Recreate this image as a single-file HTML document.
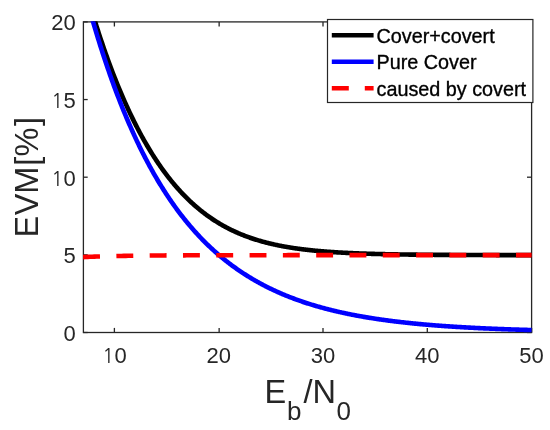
<!DOCTYPE html>
<html><head><meta charset="utf-8">
<style>
html,body{margin:0;padding:0;background:#fff;}
body{width:550px;height:430px;overflow:hidden;}
svg{display:block;}
</style></head>
<body>
<svg width="550" height="430" viewBox="0 0 550 430">
<rect width="550" height="430" fill="#fff"/>
<defs><clipPath id="ax"><rect x="80.10" y="21.20" width="454.50" height="314.60"/></clipPath></defs>
<g stroke="#262626" stroke-width="1.3" fill="none">
<rect x="83.40" y="21.90" width="448.20" height="310.60"/>
<line x1="114.39" y1="332.50" x2="114.39" y2="327.90"/><line x1="114.39" y1="21.90" x2="114.39" y2="26.50"/><line x1="219.14" y1="332.50" x2="219.14" y2="327.90"/><line x1="219.14" y1="21.90" x2="219.14" y2="26.50"/><line x1="323.00" y1="332.50" x2="323.00" y2="327.90"/><line x1="323.00" y1="21.90" x2="323.00" y2="26.50"/><line x1="427.30" y1="332.50" x2="427.30" y2="327.90"/><line x1="427.30" y1="21.90" x2="427.30" y2="26.50"/><line x1="531.60" y1="332.50" x2="531.60" y2="327.90"/><line x1="531.60" y1="21.90" x2="531.60" y2="26.50"/><line x1="83.10" y1="332.50" x2="87.70" y2="332.50"/><line x1="531.60" y1="332.50" x2="527.00" y2="332.50"/><line x1="83.10" y1="254.85" x2="87.70" y2="254.85"/><line x1="531.60" y1="254.85" x2="527.00" y2="254.85"/><line x1="83.10" y1="177.20" x2="87.70" y2="177.20"/><line x1="531.60" y1="177.20" x2="527.00" y2="177.20"/><line x1="83.10" y1="99.55" x2="87.70" y2="99.55"/><line x1="531.60" y1="99.55" x2="527.00" y2="99.55"/><line x1="83.10" y1="21.90" x2="87.70" y2="21.90"/><line x1="531.60" y1="21.90" x2="527.00" y2="21.90"/>
</g>
<g clip-path="url(#ax)" fill="none" stroke-width="4.6" stroke-linejoin="round">
<path d="M83.10,-19.50 L83.85,-16.76 L84.60,-14.04 L85.35,-11.35 L86.09,-8.67 L86.84,-6.03 L87.59,-3.40 L88.34,-0.80 L89.09,1.78 L89.84,4.34 L90.59,6.87 L91.34,9.39 L92.08,11.88 L92.83,14.35 L93.58,16.80 L94.33,19.22 L95.08,21.63 L95.83,24.02 L96.58,26.38 L97.33,28.72 L98.07,31.05 L98.82,33.35 L99.57,35.63 L100.32,37.90 L101.07,40.14 L101.82,42.36 L102.57,44.57 L103.32,46.75 L104.06,48.92 L104.81,51.06 L105.56,53.19 L106.31,55.30 L107.06,57.39 L107.81,59.46 L108.56,61.51 L109.31,63.55 L110.05,65.57 L110.80,67.57 L111.55,69.55 L112.30,71.51 L113.05,73.46 L113.80,75.39 L114.55,77.30 L115.30,79.20 L116.04,81.07 L116.79,82.94 L117.54,84.78 L118.29,86.61 L119.04,88.42 L119.79,90.22 L120.54,92.00 L121.29,93.76 L122.03,95.51 L122.78,97.24 L123.53,98.95 L124.28,100.66 L125.03,102.34 L125.78,104.01 L126.53,105.66 L127.28,107.30 L128.02,108.93 L128.77,110.54 L129.52,112.13 L130.27,113.71 L131.02,115.28 L131.77,116.83 L132.52,118.37 L133.27,119.89 L134.01,121.40 L134.76,122.90 L135.51,124.38 L136.26,125.85 L137.01,127.30 L137.76,128.74 L138.51,130.17 L139.26,131.58 L140.00,132.98 L140.75,134.37 L141.50,135.74 L142.25,137.10 L143.00,138.45 L143.75,139.79 L144.50,141.11 L145.25,142.42 L145.99,143.72 L146.74,145.00 L147.49,146.28 L148.24,147.54 L148.99,148.79 L149.74,150.03 L150.49,151.25 L151.24,152.46 L151.98,153.67 L152.73,154.86 L153.48,156.03 L154.23,157.20 L154.98,158.36 L155.73,159.50 L156.48,160.63 L157.23,161.76 L157.97,162.87 L158.72,163.97 L159.47,165.06 L160.22,166.13 L160.97,167.20 L161.72,168.26 L162.47,169.30 L163.22,170.34 L163.96,171.37 L164.71,172.38 L165.46,173.39 L166.21,174.38 L166.96,175.37 L167.71,176.34 L168.46,177.31 L169.21,178.26 L169.95,179.21 L170.70,180.14 L171.45,181.07 L172.20,181.99 L172.95,182.89 L173.70,183.79 L174.45,184.68 L175.20,185.56 L175.94,186.43 L176.69,187.29 L177.44,188.14 L178.19,188.98 L178.94,189.82 L179.69,190.64 L180.44,191.46 L181.19,192.27 L181.93,193.07 L182.68,193.86 L183.43,194.64 L184.18,195.41 L184.93,196.18 L185.68,196.94 L186.43,197.68 L187.18,198.42 L187.92,199.16 L188.67,199.88 L189.42,200.60 L190.17,201.31 L190.92,202.01 L191.67,202.70 L192.42,203.39 L193.17,204.07 L193.91,204.74 L194.66,205.40 L195.41,206.06 L196.16,206.70 L196.91,207.34 L197.66,207.98 L198.41,208.61 L199.16,209.22 L199.90,209.84 L200.65,210.44 L201.40,211.04 L202.15,211.63 L202.90,212.22 L203.65,212.79 L204.40,213.37 L205.15,213.93 L205.89,214.49 L206.64,215.04 L207.39,215.59 L208.14,216.12 L208.89,216.66 L209.64,217.18 L210.39,217.70 L211.14,218.22 L211.88,218.72 L212.63,219.22 L213.38,219.72 L214.13,220.21 L214.88,220.69 L215.63,221.17 L216.38,221.64 L217.13,222.11 L217.87,222.57 L218.62,223.02 L219.37,223.47 L220.12,223.92 L220.87,224.36 L221.62,224.79 L222.37,225.22 L223.12,225.64 L223.86,226.05 L224.61,226.47 L225.36,226.87 L226.11,227.27 L226.86,227.67 L227.61,228.06 L228.36,228.45 L229.11,228.83 L229.85,229.21 L230.60,229.58 L231.35,229.95 L232.10,230.31 L232.85,230.67 L233.60,231.02 L234.35,231.37 L235.10,231.71 L235.84,232.05 L236.59,232.39 L237.34,232.72 L238.09,233.04 L238.84,233.37 L239.59,233.68 L240.34,234.00 L241.09,234.31 L241.83,234.61 L242.58,234.91 L243.33,235.21 L244.08,235.50 L244.83,235.79 L245.58,236.08 L246.33,236.36 L247.08,236.64 L247.82,236.91 L248.57,237.18 L249.32,237.45 L250.07,237.71 L250.82,237.97 L251.57,238.23 L252.32,238.48 L253.07,238.73 L253.81,238.98 L254.56,239.22 L255.31,239.46 L256.06,239.69 L256.81,239.92 L257.56,240.15 L258.31,240.38 L259.06,240.60 L259.80,240.82 L260.55,241.04 L261.30,241.25 L262.05,241.46 L262.80,241.67 L263.55,241.87 L264.30,242.08 L265.05,242.28 L265.79,242.47 L266.54,242.66 L267.29,242.86 L268.04,243.04 L268.79,243.23 L269.54,243.41 L270.29,243.59 L271.04,243.77 L271.78,243.94 L272.53,244.11 L273.28,244.28 L274.03,244.45 L274.78,244.62 L275.53,244.78 L276.28,244.94 L277.03,245.10 L277.77,245.25 L278.52,245.40 L279.27,245.56 L280.02,245.70 L280.77,245.85 L281.52,246.00 L282.27,246.14 L283.02,246.28 L283.76,246.42 L284.51,246.55 L285.26,246.69 L286.01,246.82 L286.76,246.95 L287.51,247.08 L288.26,247.20 L289.01,247.33 L289.75,247.45 L290.50,247.57 L291.25,247.69 L292.00,247.81 L292.75,247.92 L293.50,248.03 L294.25,248.15 L295.00,248.26 L295.74,248.36 L296.49,248.47 L297.24,248.58 L297.99,248.68 L298.74,248.78 L299.49,248.88 L300.24,248.98 L300.99,249.08 L301.73,249.18 L302.48,249.27 L303.23,249.36 L303.98,249.45 L304.73,249.54 L305.48,249.63 L306.23,249.72 L306.98,249.81 L307.72,249.89 L308.47,249.98 L309.22,250.06 L309.97,250.14 L310.72,250.22 L311.47,250.30 L312.22,250.37 L312.97,250.45 L313.71,250.53 L314.46,250.60 L315.21,250.67 L315.96,250.74 L316.71,250.81 L317.46,250.88 L318.21,250.95 L318.96,251.02 L319.70,251.09 L320.45,251.15 L321.20,251.21 L321.95,251.28 L322.70,251.34 L323.45,251.40 L324.20,251.46 L324.95,251.52 L325.69,251.58 L326.44,251.64 L327.19,251.69 L327.94,251.75 L328.69,251.80 L329.44,251.86 L330.19,251.91 L330.94,251.96 L331.68,252.01 L332.43,252.06 L333.18,252.11 L333.93,252.16 L334.68,252.21 L335.43,252.26 L336.18,252.30 L336.93,252.35 L337.67,252.40 L338.42,252.44 L339.17,252.48 L339.92,252.53 L340.67,252.57 L341.42,252.61 L342.17,252.65 L342.92,252.69 L343.66,252.73 L344.41,252.77 L345.16,252.81 L345.91,252.85 L346.66,252.89 L347.41,252.92 L348.16,252.96 L348.91,252.99 L349.65,253.03 L350.40,253.06 L351.15,253.10 L351.90,253.13 L352.65,253.16 L353.40,253.20 L354.15,253.23 L354.90,253.26 L355.64,253.29 L356.39,253.32 L357.14,253.35 L357.89,253.38 L358.64,253.41 L359.39,253.44 L360.14,253.46 L360.89,253.49 L361.63,253.52 L362.38,253.55 L363.13,253.57 L363.88,253.60 L364.63,253.62 L365.38,253.65 L366.13,253.67 L366.88,253.70 L367.62,253.72 L368.37,253.74 L369.12,253.77 L369.87,253.79 L370.62,253.81 L371.37,253.83 L372.12,253.86 L372.87,253.88 L373.61,253.90 L374.36,253.92 L375.11,253.94 L375.86,253.96 L376.61,253.98 L377.36,254.00 L378.11,254.02 L378.86,254.03 L379.60,254.05 L380.35,254.07 L381.10,254.09 L381.85,254.11 L382.60,254.12 L383.35,254.14 L384.10,254.16 L384.85,254.17 L385.59,254.19 L386.34,254.20 L387.09,254.22 L387.84,254.24 L388.59,254.25 L389.34,254.27 L390.09,254.28 L390.84,254.29 L391.58,254.31 L392.33,254.32 L393.08,254.34 L393.83,254.35 L394.58,254.36 L395.33,254.38 L396.08,254.39 L396.83,254.40 L397.57,254.41 L398.32,254.43 L399.07,254.44 L399.82,254.45 L400.57,254.46 L401.32,254.47 L402.07,254.48 L402.82,254.49 L403.56,254.51 L404.31,254.52 L405.06,254.53 L405.81,254.54 L406.56,254.55 L407.31,254.56 L408.06,254.57 L408.81,254.58 L409.55,254.59 L410.30,254.60 L411.05,254.61 L411.80,254.61 L412.55,254.62 L413.30,254.63 L414.05,254.64 L414.80,254.65 L415.54,254.66 L416.29,254.67 L417.04,254.67 L417.79,254.68 L418.54,254.69 L419.29,254.70 L420.04,254.70 L420.79,254.71 L421.53,254.72 L422.28,254.73 L423.03,254.73 L423.78,254.74 L424.53,254.75 L425.28,254.75 L426.03,254.76 L426.78,254.77 L427.52,254.77 L428.27,254.78 L429.02,254.79 L429.77,254.79 L430.52,254.80 L431.27,254.80 L432.02,254.81 L432.77,254.82 L433.51,254.82 L434.26,254.83 L435.01,254.83 L435.76,254.84 L436.51,254.84 L437.26,254.85 L438.01,254.85 L438.76,254.86 L439.50,254.86 L440.25,254.87 L441.00,254.87 L441.75,254.88 L442.50,254.88 L443.25,254.89 L444.00,254.89 L444.75,254.90 L445.49,254.90 L446.24,254.90 L446.99,254.91 L447.74,254.91 L448.49,254.92 L449.24,254.92 L449.99,254.92 L450.74,254.93 L451.48,254.93 L452.23,254.94 L452.98,254.94 L453.73,254.94 L454.48,254.95 L455.23,254.95 L455.98,254.95 L456.73,254.96 L457.47,254.96 L458.22,254.96 L458.97,254.97 L459.72,254.97 L460.47,254.97 L461.22,254.98 L461.97,254.98 L462.72,254.98 L463.46,254.99 L464.21,254.99 L464.96,254.99 L465.71,254.99 L466.46,255.00 L467.21,255.00 L467.96,255.00 L468.71,255.00 L469.45,255.01 L470.20,255.01 L470.95,255.01 L471.70,255.01 L472.45,255.02 L473.20,255.02 L473.95,255.02 L474.70,255.02 L475.44,255.03 L476.19,255.03 L476.94,255.03 L477.69,255.03 L478.44,255.03 L479.19,255.04 L479.94,255.04 L480.69,255.04 L481.43,255.04 L482.18,255.04 L482.93,255.05 L483.68,255.05 L484.43,255.05 L485.18,255.05 L485.93,255.05 L486.68,255.06 L487.42,255.06 L488.17,255.06 L488.92,255.06 L489.67,255.06 L490.42,255.06 L491.17,255.07 L491.92,255.07 L492.67,255.07 L493.41,255.07 L494.16,255.07 L494.91,255.07 L495.66,255.07 L496.41,255.08 L497.16,255.08 L497.91,255.08 L498.66,255.08 L499.40,255.08 L500.15,255.08 L500.90,255.08 L501.65,255.09 L502.40,255.09 L503.15,255.09 L503.90,255.09 L504.65,255.09 L505.39,255.09 L506.14,255.09 L506.89,255.09 L507.64,255.09 L508.39,255.10 L509.14,255.10 L509.89,255.10 L510.64,255.10 L511.38,255.10 L512.13,255.10 L512.88,255.10 L513.63,255.10 L514.38,255.10 L515.13,255.10 L515.88,255.11 L516.63,255.11 L517.37,255.11 L518.12,255.11 L518.87,255.11 L519.62,255.11 L520.37,255.11 L521.12,255.11 L521.87,255.11 L522.62,255.11 L523.36,255.11 L524.11,255.11 L524.86,255.12 L525.61,255.12 L526.36,255.12 L527.11,255.12 L527.86,255.12 L528.61,255.12 L529.35,255.12 L530.10,255.12 L530.85,255.12 L531.60,255.12" stroke="#000"/>
<path d="M83.10,-14.35 L83.85,-11.50 L84.60,-8.66 L85.35,-5.86 L86.09,-3.07 L86.84,-0.31 L87.59,2.43 L88.34,5.15 L89.09,7.84 L89.84,10.51 L90.59,13.16 L91.34,15.79 L92.08,18.40 L92.83,20.98 L93.58,23.55 L94.33,26.09 L95.08,28.61 L95.83,31.11 L96.58,33.59 L97.33,36.05 L98.07,38.49 L98.82,40.91 L99.57,43.31 L100.32,45.69 L101.07,48.06 L101.82,50.40 L102.57,52.72 L103.32,55.02 L104.06,57.30 L104.81,59.57 L105.56,61.82 L106.31,64.04 L107.06,66.25 L107.81,68.45 L108.56,70.62 L109.31,72.77 L110.05,74.91 L110.80,77.03 L111.55,79.13 L112.30,81.22 L113.05,83.29 L113.80,85.34 L114.55,87.37 L115.30,89.39 L116.04,91.39 L116.79,93.38 L117.54,95.34 L118.29,97.30 L119.04,99.23 L119.79,101.15 L120.54,103.06 L121.29,104.95 L122.03,106.82 L122.78,108.68 L123.53,110.52 L124.28,112.34 L125.03,114.16 L125.78,115.95 L126.53,117.74 L127.28,119.50 L128.02,121.26 L128.77,123.00 L129.52,124.72 L130.27,126.43 L131.02,128.13 L131.77,129.81 L132.52,131.48 L133.27,133.13 L134.01,134.77 L134.76,136.40 L135.51,138.01 L136.26,139.61 L137.01,141.20 L137.76,142.78 L138.51,144.34 L139.26,145.89 L140.00,147.42 L140.75,148.95 L141.50,150.46 L142.25,151.95 L143.00,153.44 L143.75,154.91 L144.50,156.38 L145.25,157.83 L145.99,159.26 L146.74,160.69 L147.49,162.10 L148.24,163.51 L148.99,164.90 L149.74,166.28 L150.49,167.64 L151.24,169.00 L151.98,170.35 L152.73,171.68 L153.48,173.01 L154.23,174.32 L154.98,175.62 L155.73,176.91 L156.48,178.19 L157.23,179.46 L157.97,180.72 L158.72,181.97 L159.47,183.21 L160.22,184.44 L160.97,185.66 L161.72,186.87 L162.47,188.06 L163.22,189.25 L163.96,190.43 L164.71,191.60 L165.46,192.76 L166.21,193.91 L166.96,195.05 L167.71,196.18 L168.46,197.31 L169.21,198.42 L169.95,199.52 L170.70,200.62 L171.45,201.70 L172.20,202.78 L172.95,203.85 L173.70,204.90 L174.45,205.96 L175.20,207.00 L175.94,208.03 L176.69,209.05 L177.44,210.07 L178.19,211.08 L178.94,212.08 L179.69,213.07 L180.44,214.05 L181.19,215.03 L181.93,215.99 L182.68,216.95 L183.43,217.90 L184.18,218.85 L184.93,219.78 L185.68,220.71 L186.43,221.63 L187.18,222.54 L187.92,223.45 L188.67,224.34 L189.42,225.23 L190.17,226.12 L190.92,226.99 L191.67,227.86 L192.42,228.72 L193.17,229.58 L193.91,230.42 L194.66,231.26 L195.41,232.10 L196.16,232.92 L196.91,233.74 L197.66,234.56 L198.41,235.36 L199.16,236.16 L199.90,236.95 L200.65,237.74 L201.40,238.52 L202.15,239.29 L202.90,240.06 L203.65,240.82 L204.40,241.58 L205.15,242.33 L205.89,243.07 L206.64,243.80 L207.39,244.53 L208.14,245.26 L208.89,245.98 L209.64,246.69 L210.39,247.39 L211.14,248.09 L211.88,248.79 L212.63,249.48 L213.38,250.16 L214.13,250.84 L214.88,251.51 L215.63,252.18 L216.38,252.84 L217.13,253.50 L217.87,254.15 L218.62,254.79 L219.37,255.43 L220.12,256.06 L220.87,256.69 L221.62,257.32 L222.37,257.94 L223.12,258.55 L223.86,259.16 L224.61,259.76 L225.36,260.36 L226.11,260.95 L226.86,261.54 L227.61,262.13 L228.36,262.71 L229.11,263.28 L229.85,263.85 L230.60,264.42 L231.35,264.98 L232.10,265.53 L232.85,266.08 L233.60,266.63 L234.35,267.17 L235.10,267.71 L235.84,268.24 L236.59,268.77 L237.34,269.30 L238.09,269.82 L238.84,270.33 L239.59,270.84 L240.34,271.35 L241.09,271.85 L241.83,272.35 L242.58,272.85 L243.33,273.34 L244.08,273.83 L244.83,274.31 L245.58,274.79 L246.33,275.26 L247.08,275.73 L247.82,276.20 L248.57,276.67 L249.32,277.13 L250.07,277.58 L250.82,278.03 L251.57,278.48 L252.32,278.93 L253.07,279.37 L253.81,279.80 L254.56,280.24 L255.31,280.67 L256.06,281.09 L256.81,281.52 L257.56,281.94 L258.31,282.35 L259.06,282.77 L259.80,283.18 L260.55,283.58 L261.30,283.98 L262.05,284.38 L262.80,284.78 L263.55,285.17 L264.30,285.56 L265.05,285.95 L265.79,286.33 L266.54,286.71 L267.29,287.09 L268.04,287.46 L268.79,287.83 L269.54,288.20 L270.29,288.56 L271.04,288.93 L271.78,289.29 L272.53,289.64 L273.28,289.99 L274.03,290.34 L274.78,290.69 L275.53,291.03 L276.28,291.38 L277.03,291.71 L277.77,292.05 L278.52,292.38 L279.27,292.71 L280.02,293.04 L280.77,293.37 L281.52,293.69 L282.27,294.01 L283.02,294.32 L283.76,294.64 L284.51,294.95 L285.26,295.26 L286.01,295.57 L286.76,295.87 L287.51,296.17 L288.26,296.47 L289.01,296.77 L289.75,297.06 L290.50,297.35 L291.25,297.64 L292.00,297.93 L292.75,298.21 L293.50,298.49 L294.25,298.77 L295.00,299.05 L295.74,299.33 L296.49,299.60 L297.24,299.87 L297.99,300.14 L298.74,300.41 L299.49,300.67 L300.24,300.93 L300.99,301.19 L301.73,301.45 L302.48,301.71 L303.23,301.96 L303.98,302.21 L304.73,302.46 L305.48,302.71 L306.23,302.95 L306.98,303.20 L307.72,303.44 L308.47,303.68 L309.22,303.91 L309.97,304.15 L310.72,304.38 L311.47,304.61 L312.22,304.84 L312.97,305.07 L313.71,305.30 L314.46,305.52 L315.21,305.74 L315.96,305.96 L316.71,306.18 L317.46,306.40 L318.21,306.61 L318.96,306.83 L319.70,307.04 L320.45,307.25 L321.20,307.45 L321.95,307.66 L322.70,307.86 L323.45,308.07 L324.20,308.27 L324.95,308.47 L325.69,308.67 L326.44,308.86 L327.19,309.06 L327.94,309.25 L328.69,309.44 L329.44,309.63 L330.19,309.82 L330.94,310.01 L331.68,310.19 L332.43,310.37 L333.18,310.56 L333.93,310.74 L334.68,310.92 L335.43,311.09 L336.18,311.27 L336.93,311.44 L337.67,311.62 L338.42,311.79 L339.17,311.96 L339.92,312.13 L340.67,312.30 L341.42,312.46 L342.17,312.63 L342.92,312.79 L343.66,312.95 L344.41,313.11 L345.16,313.27 L345.91,313.43 L346.66,313.59 L347.41,313.75 L348.16,313.90 L348.91,314.05 L349.65,314.20 L350.40,314.36 L351.15,314.50 L351.90,314.65 L352.65,314.80 L353.40,314.95 L354.15,315.09 L354.90,315.23 L355.64,315.37 L356.39,315.52 L357.14,315.66 L357.89,315.79 L358.64,315.93 L359.39,316.07 L360.14,316.20 L360.89,316.34 L361.63,316.47 L362.38,316.60 L363.13,316.73 L363.88,316.86 L364.63,316.99 L365.38,317.12 L366.13,317.25 L366.88,317.37 L367.62,317.50 L368.37,317.62 L369.12,317.74 L369.87,317.86 L370.62,317.98 L371.37,318.10 L372.12,318.22 L372.87,318.34 L373.61,318.46 L374.36,318.57 L375.11,318.69 L375.86,318.80 L376.61,318.91 L377.36,319.02 L378.11,319.14 L378.86,319.25 L379.60,319.35 L380.35,319.46 L381.10,319.57 L381.85,319.68 L382.60,319.78 L383.35,319.89 L384.10,319.99 L384.85,320.09 L385.59,320.20 L386.34,320.30 L387.09,320.40 L387.84,320.50 L388.59,320.60 L389.34,320.69 L390.09,320.79 L390.84,320.89 L391.58,320.98 L392.33,321.08 L393.08,321.17 L393.83,321.26 L394.58,321.36 L395.33,321.45 L396.08,321.54 L396.83,321.63 L397.57,321.72 L398.32,321.81 L399.07,321.90 L399.82,321.98 L400.57,322.07 L401.32,322.16 L402.07,322.24 L402.82,322.33 L403.56,322.41 L404.31,322.49 L405.06,322.57 L405.81,322.66 L406.56,322.74 L407.31,322.82 L408.06,322.90 L408.81,322.98 L409.55,323.06 L410.30,323.13 L411.05,323.21 L411.80,323.29 L412.55,323.36 L413.30,323.44 L414.05,323.51 L414.80,323.59 L415.54,323.66 L416.29,323.73 L417.04,323.80 L417.79,323.88 L418.54,323.95 L419.29,324.02 L420.04,324.09 L420.79,324.16 L421.53,324.22 L422.28,324.29 L423.03,324.36 L423.78,324.43 L424.53,324.49 L425.28,324.56 L426.03,324.63 L426.78,324.69 L427.52,324.75 L428.27,324.82 L429.02,324.88 L429.77,324.94 L430.52,325.01 L431.27,325.07 L432.02,325.13 L432.77,325.19 L433.51,325.25 L434.26,325.31 L435.01,325.37 L435.76,325.43 L436.51,325.49 L437.26,325.54 L438.01,325.60 L438.76,325.66 L439.50,325.71 L440.25,325.77 L441.00,325.83 L441.75,325.88 L442.50,325.93 L443.25,325.99 L444.00,326.04 L444.75,326.10 L445.49,326.15 L446.24,326.20 L446.99,326.25 L447.74,326.30 L448.49,326.35 L449.24,326.41 L449.99,326.46 L450.74,326.51 L451.48,326.55 L452.23,326.60 L452.98,326.65 L453.73,326.70 L454.48,326.75 L455.23,326.80 L455.98,326.84 L456.73,326.89 L457.47,326.93 L458.22,326.98 L458.97,327.03 L459.72,327.07 L460.47,327.12 L461.22,327.16 L461.97,327.20 L462.72,327.25 L463.46,327.29 L464.21,327.33 L464.96,327.38 L465.71,327.42 L466.46,327.46 L467.21,327.50 L467.96,327.54 L468.71,327.58 L469.45,327.62 L470.20,327.66 L470.95,327.70 L471.70,327.74 L472.45,327.78 L473.20,327.82 L473.95,327.86 L474.70,327.90 L475.44,327.94 L476.19,327.97 L476.94,328.01 L477.69,328.05 L478.44,328.08 L479.19,328.12 L479.94,328.16 L480.69,328.19 L481.43,328.23 L482.18,328.26 L482.93,328.30 L483.68,328.33 L484.43,328.37 L485.18,328.40 L485.93,328.43 L486.68,328.47 L487.42,328.50 L488.17,328.53 L488.92,328.57 L489.67,328.60 L490.42,328.63 L491.17,328.66 L491.92,328.69 L492.67,328.73 L493.41,328.76 L494.16,328.79 L494.91,328.82 L495.66,328.85 L496.41,328.88 L497.16,328.91 L497.91,328.94 L498.66,328.97 L499.40,329.00 L500.15,329.03 L500.90,329.05 L501.65,329.08 L502.40,329.11 L503.15,329.14 L503.90,329.17 L504.65,329.19 L505.39,329.22 L506.14,329.25 L506.89,329.27 L507.64,329.30 L508.39,329.33 L509.14,329.35 L509.89,329.38 L510.64,329.41 L511.38,329.43 L512.13,329.46 L512.88,329.48 L513.63,329.51 L514.38,329.53 L515.13,329.55 L515.88,329.58 L516.63,329.60 L517.37,329.63 L518.12,329.65 L518.87,329.67 L519.62,329.70 L520.37,329.72 L521.12,329.74 L521.87,329.77 L522.62,329.79 L523.36,329.81 L524.11,329.83 L524.86,329.85 L525.61,329.88 L526.36,329.90 L527.11,329.92 L527.86,329.94 L528.61,329.96 L529.35,329.98 L530.10,330.00 L530.85,330.02 L531.60,330.04" stroke="#0000ff"/>
<path d="M83.10,257.10 L85.35,257.00 L87.61,256.90 L89.86,256.81 L92.12,256.72 L94.37,256.64 L96.62,256.56 L98.88,256.49 L101.13,256.42 L103.38,256.35 L105.64,256.29 L107.89,256.23 L110.15,256.18 L112.40,256.12 L114.65,256.07 L116.91,256.02 L119.16,255.98 L121.41,255.94 L123.67,255.89 L125.92,255.86 L128.18,255.82 L130.43,255.78 L132.68,255.75 L134.94,255.72 L137.19,255.69 L139.44,255.66 L141.70,255.64 L143.95,255.61 L146.21,255.59 L148.46,255.57 L150.71,255.54 L152.97,255.52 L155.22,255.51 L157.47,255.49 L159.73,255.47 L161.98,255.45 L164.24,255.44 L166.49,255.42 L168.74,255.41 L171.00,255.40 L173.25,255.38 L175.50,255.37 L177.76,255.36 L180.01,255.35 L182.27,255.34 L184.52,255.33 L186.77,255.32 L189.03,255.31 L191.28,255.31 L193.53,255.30 L195.79,255.29 L198.04,255.28 L200.30,255.28 L202.55,255.27 L204.80,255.27 L207.06,255.26 L209.31,255.25 L211.56,255.25 L213.82,255.25 L216.07,255.24 L218.33,255.24 L220.58,255.23 L222.83,255.23 L225.09,255.23 L227.34,255.22 L229.59,255.22 L231.85,255.22 L234.10,255.21 L236.36,255.21 L238.61,255.21 L240.86,255.20 L243.12,255.20 L245.37,255.20 L247.63,255.20 L249.88,255.20 L252.13,255.19 L254.39,255.19 L256.64,255.19 L258.89,255.19 L261.15,255.19 L263.40,255.19 L265.66,255.19 L267.91,255.18 L270.16,255.18 L272.42,255.18 L274.67,255.18 L276.92,255.18 L279.18,255.18 L281.43,255.18 L283.69,255.18 L285.94,255.18 L288.19,255.17 L290.45,255.17 L292.70,255.17 L294.95,255.17 L297.21,255.17 L299.46,255.17 L301.72,255.17 L303.97,255.17 L306.22,255.17 L308.48,255.17 L310.73,255.17 L312.98,255.17 L315.24,255.17 L317.49,255.17 L319.75,255.17 L322.00,255.17 L324.25,255.17 L326.51,255.17 L328.76,255.17 L331.01,255.17 L333.27,255.17 L335.52,255.17 L337.78,255.16 L340.03,255.16 L342.28,255.16 L344.54,255.16 L346.79,255.16 L349.04,255.16 L351.30,255.16 L353.55,255.16 L355.81,255.16 L358.06,255.16 L360.31,255.16 L362.57,255.16 L364.82,255.16 L367.07,255.16 L369.33,255.16 L371.58,255.16 L373.84,255.16 L376.09,255.16 L378.34,255.16 L380.60,255.16 L382.85,255.16 L385.11,255.16 L387.36,255.16 L389.61,255.16 L391.87,255.16 L394.12,255.16 L396.37,255.16 L398.63,255.16 L400.88,255.16 L403.14,255.16 L405.39,255.16 L407.64,255.16 L409.90,255.16 L412.15,255.16 L414.40,255.16 L416.66,255.16 L418.91,255.16 L421.17,255.16 L423.42,255.16 L425.67,255.16 L427.93,255.16 L430.18,255.16 L432.43,255.16 L434.69,255.16 L436.94,255.16 L439.20,255.16 L441.45,255.16 L443.70,255.16 L445.96,255.16 L448.21,255.16 L450.46,255.16 L452.72,255.16 L454.97,255.16 L457.23,255.16 L459.48,255.16 L461.73,255.16 L463.99,255.16 L466.24,255.16 L468.49,255.16 L470.75,255.16 L473.00,255.16 L475.26,255.16 L477.51,255.16 L479.76,255.16 L482.02,255.16 L484.27,255.16 L486.52,255.16 L488.78,255.16 L491.03,255.16 L493.29,255.16 L495.54,255.16 L497.79,255.16 L500.05,255.16 L502.30,255.16 L504.55,255.16 L506.81,255.16 L509.06,255.16 L511.32,255.16 L513.57,255.16 L515.82,255.16 L518.08,255.16 L520.33,255.16 L522.58,255.16 L524.84,255.16 L527.09,255.16 L529.35,255.16 L531.60,255.16" stroke="#ff0000" stroke-dasharray="16.9 16.4"/>
</g>
<g font-family="'Liberation Sans', Arial, Helvetica, sans-serif" font-size="22" fill="#262626">
<text><tspan x="102.16" y="363.00" font-family="NanumGothic, 'Liberation Sans', Arial, Helvetica, sans-serif" font-size="19.7">1</tspan><tspan x="114.39" y="363.00">0</tspan></text><text><tspan x="206.46" y="363.00">2</tspan><tspan x="218.69" y="363.00">0</tspan></text><text><tspan x="310.76" y="363.00">3</tspan><tspan x="323.00" y="363.00">0</tspan></text><text><tspan x="415.07" y="363.00">4</tspan><tspan x="427.30" y="363.00">0</tspan></text><text><tspan x="519.37" y="363.00">5</tspan><tspan x="531.60" y="363.00">0</tspan></text><text><tspan x="63.57" y="341.00">0</tspan></text><text><tspan x="63.57" y="263.35">5</tspan></text><text><tspan x="51.34" y="185.70" font-family="NanumGothic, 'Liberation Sans', Arial, Helvetica, sans-serif" font-size="19.7">1</tspan><tspan x="63.57" y="185.70">0</tspan></text><text><tspan x="51.34" y="108.05" font-family="NanumGothic, 'Liberation Sans', Arial, Helvetica, sans-serif" font-size="19.7">1</tspan><tspan x="63.57" y="108.05">5</tspan></text><text><tspan x="51.34" y="30.40">2</tspan><tspan x="63.57" y="30.40">0</tspan></text>
</g>
<text transform="rotate(-90)" x="-237.50 -215.20 -193.80 -165.80 -156.40 -126.05" y="37.9" font-family="'Liberation Sans', Arial, Helvetica, sans-serif" font-size="32.5" fill="#262626">EVM[%]</text>
<g font-family="'Liberation Sans', Arial, Helvetica, sans-serif" fill="#262626"><text x="264.4" y="403" font-size="32.5">E</text><text x="287.1" y="420.3" font-size="26">b</text><text x="303.4" y="403" font-size="32.5">/</text><text x="312.6" y="403" font-size="32.5">N</text><text x="336.5" y="420.3" font-size="26">0</text></g>
<g>
<rect x="327.5" y="19.5" width="205.4" height="83" fill="#fff" stroke="#262626" stroke-width="1.2"/>
<line x1="331.8" y1="35.2" x2="373.6" y2="35.2" stroke="#000" stroke-width="4.6"/>
<line x1="331.8" y1="61.8" x2="373.6" y2="61.8" stroke="#0000ff" stroke-width="4.6"/>
<line x1="331.8" y1="88.2" x2="373.6" y2="88.2" stroke="#ff0000" stroke-width="4.6" stroke-dasharray="17 16"/>
<g font-family="'Liberation Sans', Arial, Helvetica, sans-serif" font-size="19.8" fill="#000" stroke="#000" stroke-width="0.35">
<text x="376.5" y="42.8">Cover+covert</text>
<text x="376.5" y="69.3">Pure Cover</text>
<text x="376.5" y="96.2">caused by covert</text>
</g>
</g>
</svg>
</body></html>
